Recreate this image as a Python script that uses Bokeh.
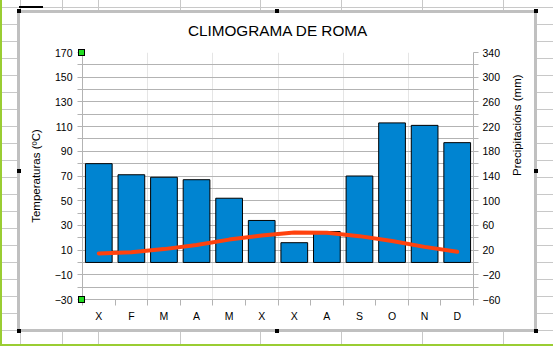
import math
from bokeh.plotting import figure
from bokeh.models import Range1d, LinearAxis, FixedTicker, Grid, InlineStyleSheet
from bokeh.embed import file_html
from bokeh.resources import INLINE
import numpy as np

# ---------------- data ----------------
months = ["X", "F", "M", "A", "M", "X", "X", "A", "S", "O", "N", "D"]
precip_mm = [80, 71, 69, 67, 52, 34, 16, 25, 70, 113, 111, 97]
temp_c = [7.3, 8.2, 10.8, 14.2, 18.5, 21.8, 24.3, 24.1, 21.3, 17.4, 12.6, 8.6]
left_ticks = list(range(-30, 171, 20))
left_minor = list(range(-20, 161, 20))
right_ticks = list(range(-60, 341, 40))
right_minor = list(range(-40, 321, 40))
grid_lines = list(range(-30, 171, 10))

# ---------------- style ----------------
FONT = "Liberation Sans"
W, H = 553, 346
FL, FR, FT, FB = 82, 473, 52, 299
AXIS_GREY = "#b3b3b3"
TICK_FS = "10.5px"
LABEL_FS = "11.5px"

xs = np.arange(len(months)) + 0.5
bounds = list(range(len(months) + 1))

p = figure(width=W, height=H, output_backend="svg", toolbar_location=None,
           x_range=Range1d(0, len(months)), y_range=Range1d(-30, 170),
           min_border_left=FL, min_border_right=W - FR,
           min_border_top=FT, min_border_bottom=H - FB,
           x_axis_location=None, y_axis_location=None,
           title="CLIMOGRAMA DE ROMA")
p.outline_line_color = None
p.background_fill_color = None
p.border_fill_color = None

p.title.align = "center"
p.title.text_font = FONT
p.title.text_font_size = "15.3px"
p.title.text_font_style = "normal"
p.title.text_color = "black"
p.title.standoff = 27

p.extra_y_ranges = {"prec": Range1d(-60, 340)}

grid = Grid(dimension=1, ticker=FixedTicker(ticks=grid_lines),
            grid_line_color=AXIS_GREY, grid_line_width=1)
p.add_layout(grid)


def style_axis(ax):
    ax.axis_line_color = AXIS_GREY
    ax.major_tick_line_color = AXIS_GREY
    ax.minor_tick_line_color = AXIS_GREY
    ax.major_label_text_font = FONT
    ax.major_label_text_font_size = TICK_FS
    ax.major_label_text_color = "black"
    ax.axis_label_text_font = FONT
    ax.axis_label_text_font_size = LABEL_FS
    ax.axis_label_text_font_style = "normal"
    ax.axis_label_text_color = "black"
    ax.major_tick_in = 0
    ax.minor_tick_in = 0


xaxis = LinearAxis(ticker=FixedTicker(ticks=list(xs), minor_ticks=bounds),
                   major_label_overrides={float(x): m for x, m in zip(xs, months)})
style_axis(xaxis)
xaxis.major_tick_out = 0
xaxis.minor_tick_out = 6
xaxis.major_label_standoff = 4
p.add_layout(xaxis, "below")

laxis = LinearAxis(ticker=FixedTicker(ticks=left_ticks, minor_ticks=left_minor),
                   axis_label="Temperaturas (ºC)")
style_axis(laxis)
laxis.major_tick_out = 5
laxis.minor_tick_out = 5
laxis.major_label_standoff = 5
laxis.axis_label_standoff = 10
p.add_layout(laxis, "left")

raxis = LinearAxis(y_range_name="prec",
                   ticker=FixedTicker(ticks=right_ticks, minor_ticks=right_minor),
                   axis_label="Precipitacións (mm)")
style_axis(raxis)
raxis.major_tick_out = 5
raxis.minor_tick_out = 5
raxis.major_label_standoff = 4
raxis.axis_label_standoff = 14
if "axis_label_orientation" in LinearAxis.properties():
    raxis.axis_label_orientation = math.pi / 2
p.add_layout(raxis, "right")

p.vbar(x=xs, top=precip_mm, bottom=0, width=0.82,
       fill_color="#0084d1", line_color="black", line_width=1)
p.line(x=xs, y=temp_c, line_color="#ff420e", line_width=4,
       line_join="round", line_cap="round")

# ---------------- decoration (spreadsheet + chart frame) via CSS background ----------------
layers = []  # (image, size, position, repeat)


def solid(color, x, y, w, h):
    layers.append((f"linear-gradient({color},{color})", f"{w}px {h}px", f"{x}px {y}px", "no-repeat"))


CELL = "#c8c8c8"
FRAME = "#c0c0c0"
GREEN = "#9acd32"
for hx in (16.5, 275, 533.5):
    for hy in (9, 169, 328.5):
        if hx == 275 and hy == 169:
            continue
        solid("#000", hx, hy, 4, 4)
solid("#ffffff", 20, 13, 514, 316)
solid(FRAME, 17, 10, 520, 322)
solid(GREEN, 0, 0, 2, H)
solid(GREEN, 0, 344, W, 2)
solid("#000", 19, 6, 24, 2)
for x in [20, 62, 98, 180, 260, 341, 422, 503]:
    solid(CELL, x, 0, 1, H)
layers.append((f"linear-gradient(to bottom, {CELL} 0px, {CELL} 1px, transparent 1px, transparent 17px)",
               f"{W}px 17px", "0px 7px", "repeat-y"))

p.styles = {
    "background-color": "#ffffff",
    "background-image": ", ".join(l[0] for l in layers),
    "background-size": ", ".join(l[1] for l in layers),
    "background-position": ", ".join(l[2] for l in layers),
    "background-repeat": ", ".join(l[3] for l in layers),
}

# green axis-selection handles drawn above the canvas
css = """
:host::before, :host::after {
  content: ""; position: absolute; left: 78px; width: 5px; height: 5px;
  background: #22dd22; border: 1px solid #000; z-index: 10; pointer-events: none;
}
:host::before { top: 49px; }
:host::after { top: 296px; }
"""
p.stylesheets = [InlineStyleSheet(css=css)]

open("out.html", "w").write(file_html(p, INLINE))
